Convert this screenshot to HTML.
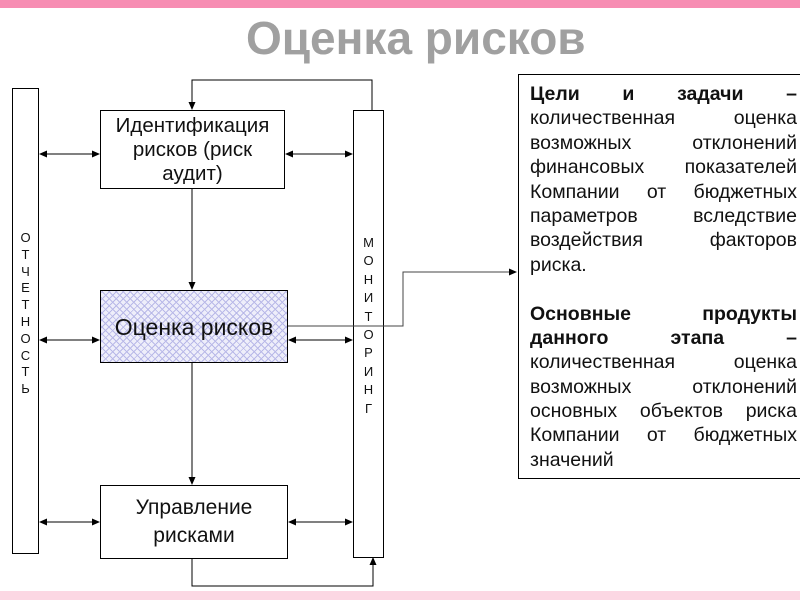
<!DOCTYPE html>
<html><head><meta charset="utf-8"><style>
body{margin:0;width:800px;height:600px;background:#fff;position:relative;overflow:hidden;font-family:"Liberation Sans",Arial,sans-serif}
.a{position:absolute}
.box{position:absolute;border:1px solid #000;background:#fff;box-sizing:border-box;display:flex;align-items:center;justify-content:center;text-align:center;font-size:20.5px;line-height:24px;color:#111}
.ln{display:flex;justify-content:space-between;height:24.4px;line-height:24.4px}
.ln.l{justify-content:flex-start}
.v{position:absolute;text-align:center;font-size:13px;color:#111}
</style></head><body>
<div class="a" style="left:0;top:0;width:800px;height:8px;background:#f78db3"></div>
<div class="a" style="left:0;top:591px;width:800px;height:9px;background:#fcd7e3"></div>
<div class="a" style="left:246px;top:12px;width:340px;font-size:46px;font-weight:bold;color:#a0a0a0;line-height:52px;white-space:nowrap">Оценка рисков</div>

<div class="box" style="left:12px;top:88px;width:27px;height:466px"></div>
<div class="v" style="left:12px;top:230px;width:27px;line-height:16.8px">О<br>Т<br>Ч<br>Е<br>Т<br>Н<br>О<br>С<br>Т<br>Ь</div>
<div class="box" style="left:353px;top:110px;width:31px;height:448px"></div>
<div class="v" style="left:353px;top:234px;width:31px;line-height:18.4px">М<br>О<br>Н<br>И<br>Т<br>О<br>Р<br>И<br>Н<br>Г</div>

<div class="box" style="left:100px;top:110px;width:185px;height:79px">Идентификация<br>рисков (риск<br>аудит)</div>
<div class="box" style="left:100px;top:290px;width:188px;height:73px;font-size:23px;background-color:#eeeefa;background-image:repeating-linear-gradient(45deg,#b8b8e8 0 1px,transparent 1px 5px),repeating-linear-gradient(-45deg,#b8b8e8 0 1px,transparent 1px 5px)">Оценка рисков</div>
<div class="box" style="left:100px;top:485px;width:188px;height:74px;font-size:21px;line-height:28px">Управление<br>рисками</div>

<svg class="a" style="left:0;top:0" width="800" height="600">
<defs><marker id="m" markerWidth="8" markerHeight="8" refX="7" refY="4" orient="auto" markerUnits="userSpaceOnUse"><path d="M0,0.5 L8,4 L0,7.5z" fill="#000"/></marker>
<marker id="s" markerWidth="8" markerHeight="8" refX="1" refY="4" orient="auto" markerUnits="userSpaceOnUse"><path d="M8,0.5 L0,4 L8,7.5z" fill="#000"/></marker></defs>
<g stroke="#000" stroke-width="1" fill="none">
<line x1="40" y1="154" x2="99" y2="154" marker-start="url(#s)" marker-end="url(#m)"/>
<line x1="286" y1="154" x2="352" y2="154" marker-start="url(#s)" marker-end="url(#m)"/>
<line x1="40" y1="340" x2="99" y2="340" marker-start="url(#s)" marker-end="url(#m)"/>
<line x1="289" y1="340" x2="352" y2="340" marker-start="url(#s)" marker-end="url(#m)"/>
<line x1="40" y1="522" x2="99" y2="522" marker-start="url(#s)" marker-end="url(#m)"/>
<line x1="289" y1="522" x2="352" y2="522" marker-start="url(#s)" marker-end="url(#m)"/>
<line x1="192" y1="189" x2="192" y2="289" marker-end="url(#m)"/>
<line x1="192" y1="363" x2="192" y2="484" marker-end="url(#m)"/>
<polyline points="372,110 372,80 192,80 192,109" marker-end="url(#m)"/>
<polyline points="192,559 192,586 373,586 373,558" marker-end="url(#m)"/>
<polyline points="288,326 403,326 403,272 516,272" stroke="#444" marker-end="url(#m)"/>
</g></svg>

<div class="a" style="left:518px;top:74px;width:290px;height:405px;border:1px solid #000;box-sizing:border-box"></div>
<div class="a" style="left:530px;top:82px;width:267px;font-size:19.5px;color:#111">
<div class="ln"><b>Цели</b><b>и</b><b>задачи</b><b>–</b></div>
<div class="ln"><span>количественная</span><span>оценка</span></div>
<div class="ln"><span>возможных</span><span>отклонений</span></div>
<div class="ln"><span>финансовых</span><span>показателей</span></div>
<div class="ln"><span>Компании</span><span>от</span><span>бюджетных</span></div>
<div class="ln"><span>параметров</span><span>вследствие</span></div>
<div class="ln"><span>воздействия</span><span>факторов</span></div>
<div class="ln l"><span>риска.</span></div>
<div class="ln"></div>
<div class="ln"><b>Основные</b><b>продукты</b></div>
<div class="ln"><b>данного</b><b>этапа</b><b>–</b></div>
<div class="ln"><span>количественная</span><span>оценка</span></div>
<div class="ln"><span>возможных</span><span>отклонений</span></div>
<div class="ln"><span>основных</span><span>объектов</span><span>риска</span></div>
<div class="ln"><span>Компании</span><span>от</span><span>бюджетных</span></div>
<div class="ln l"><span>значений</span></div>
</div>
</body></html>
